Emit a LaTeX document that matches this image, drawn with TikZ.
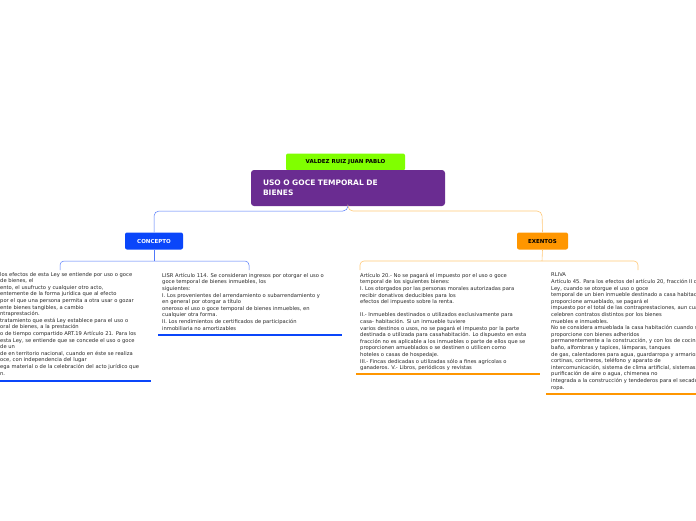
\documentclass[tikz,border=0pt]{standalone}
\usepackage{fontspec}
\setmainfont{DejaVu Sans}
\definecolor{pur}{RGB}{106,44,145}
\definecolor{grn}{RGB}{128,255,0}
\definecolor{blu}{RGB}{10,70,250}
\definecolor{org}{RGB}{255,150,0}
\definecolor{lorg}{RGB}{255,200,120}
\definecolor{lblu}{RGB}{80,120,250}
\begin{document}
\begin{tikzpicture}[x=1pt,y=-1pt,
 txt/.style={anchor=north west,align=left,inner sep=0pt,font=\fontsize{5.2}{6.6}\selectfont,text=black!85},
 tag/.style={rounded corners=2pt,font=\fontsize{5.5}{6.5}\selectfont\bfseries,inner sep=0pt,minimum height=17pt},
 bl/.style={draw=lblu,line width=0.5pt},
 orl/.style={draw=lorg,line width=0.6pt}]
\useasboundingbox (0,0) rectangle (696,520);
\clip (0,0) rectangle (696,520);
\node[tag,fill=grn,minimum width=119pt] (author) at (345.5,162) {VALDEZ RUIZ JUAN PABLO};
\node[rounded corners=3pt,fill=pur,text=white,font=\fontsize{7.5}{9.5}\selectfont\bfseries,minimum width=194pt,minimum height=36pt,align=left,text width=170pt] (main) at (348,188) {USO O GOCE TEMPORAL DE\\BIENES};
\node[tag,fill=blu,text=white,minimum width=58pt] (concepto) at (154,241) {CONCEPTO};
\node[tag,fill=org,text=black,minimum width=51pt] (exentos) at (542.5,241) {EXENTOS};
\coordinate (mb) at (348,211);
\draw[bl,rounded corners=5pt] (main.south) -- (mb) -- (154,211) -- (concepto.north);
\draw[orl,rounded corners=5pt] (main.south) -- (mb) -- (542,211) -- (exentos.north);
\draw[bl,rounded corners=4pt] (60,270) -- (60,261) -- (249,261) -- (249,270);
\draw[bl] (concepto.south) -- (154,261);
\draw[orl,rounded corners=4pt] (360,270) -- (360,261) -- (638,261) -- (638,270);
\draw[orl] (exentos.south) -- (542,261);
\node[txt] (t1) at (0,272) {los efectos de esta Ley se entiende por uso o goce\\de bienes, el\\ento, el usufructo y cualquier otro acto,\\entemente de la forma jurídica que al efecto\\por el que una persona permita a otra usar o gozar\\ente bienes tangibles, a cambio\\ntraprestación.\\ tratamiento que está Ley establece para el uso o\\oral de bienes, a la prestación\\o de tiempo compartido ART.19 Artículo 21. Para los\\ esta Ley, se entiende que se concede el uso o goce\\de un\\de en territorio nacional, cuando en éste se realiza\\oce, con independencia del lugar\\ega material o de la celebración del acto jurídico que\\n.};
\draw[blu,line width=2.2pt] (0,381) -- (151,381);
\node[txt] (t2) at (162,273) {LISR Artículo 114. Se consideran ingresos por otorgar el uso o\\goce temporal de bienes inmuebles, los\\siguientes:\\I. Los provenientes del arrendamiento o subarrendamiento y\\en general por otorgar a título\\oneroso el uso o goce temporal de bienes inmuebles, en\\cualquier otra forma.\\II. Los rendimientos de certificados de participación\\inmobiliaria no amortizables};
\draw[blu,line width=2.2pt] (158,335) -- (342,335);
\node[txt] (t3) at (360,273) {Artículo 20.- No se pagará el impuesto por el uso o goce\\temporal de los siguientes bienes:\\I. Los otorgados por las personas morales autorizadas para\\recibir donativos deducibles para los\\efectos del impuesto sobre la renta.\\[6.6pt]II.- Inmuebles destinados o utilizados exclusivamente para\\casa- habitación. Si un inmueble tuviere\\varios destinos o usos, no se pagará el impuesto por la parte\\destinada o utilizada para casahabitación. Lo dispuesto en esta\\fracción no es aplicable a los inmuebles o parte de ellos que se\\proporcionen amueblados o se destinen o utilicen como\\hoteles o casas de hospedaje.\\III.- Fincas dedicadas o utilizadas sólo a fines agrícolas o\\ganaderos. V.- Libros, periódicos y revistas};
\draw[org,line width=2.2pt] (356,374) -- (540,374);
\node[txt] (t4) at (551,273) {RLIVA\\Artículo 45. Para los efectos del artículo 20, fracción II de la\\Ley, cuando se otorgue el uso o goce\\temporal de un bien inmueble destinado a casa habitación y se\\proporcione amueblado, se pagará el\\impuesto por el total de las contraprestaciones, aun cuando se\\celebren contratos distintos por los bienes\\muebles e inmuebles.\\No se considera amueblada la casa habitación cuando se\\proporcione con bienes adheridos\\permanentemente a la construcción, y con los de cocina,\\baño, alfombras y tapices, lámparas, tanques\\de gas, calentadores para agua, guardarropa y armarios,\\cortinas, cortineros, teléfono y aparato de\\intercomunicación, sistema de clima artificial, sistemas de\\purificación de aire o agua, chimenea no\\integrada a la construcción y tendederos para el secado de\\ropa.};
\draw[org,line width=2.2pt] (546,394) -- (696,394);
\end{tikzpicture}
\end{document}
